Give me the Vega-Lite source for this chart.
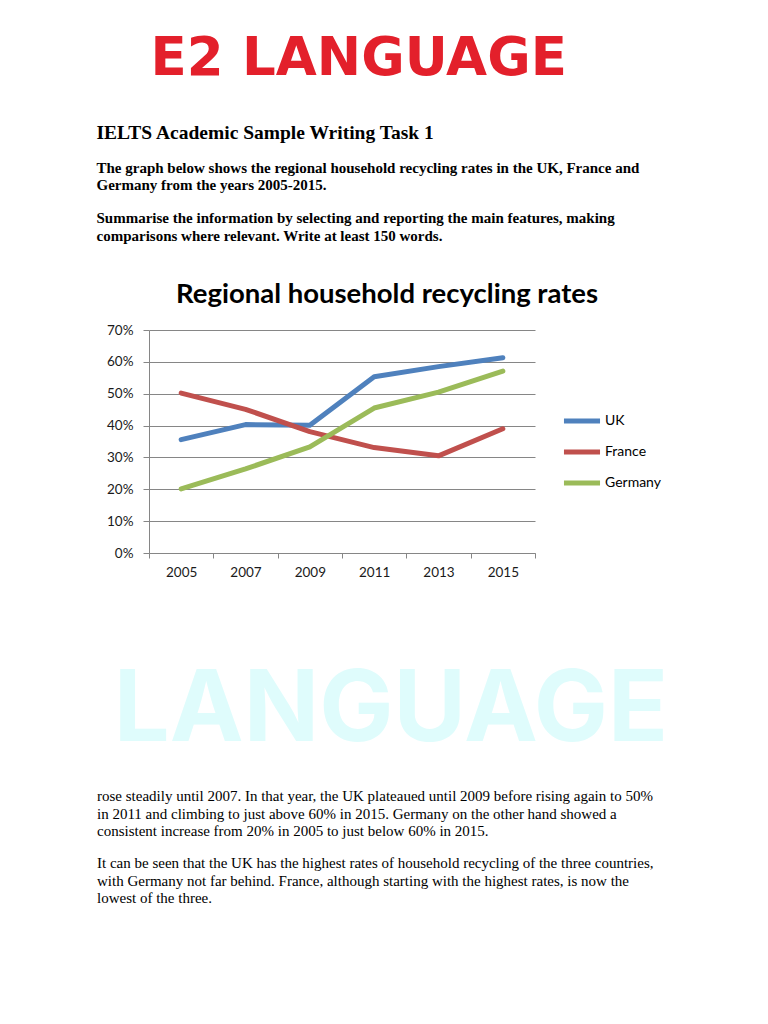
{
  "$schema": "https://vega.github.io/schema/vega-lite/v6.json",
  "background": "white",
  "padding": {"left": 96, "top": 33, "right": 5, "bottom": 5},
  "autosize": {"type": "pad"},
  "title": {
    "text": "E2 LANGUAGE",
    "font": "DejaVu Sans",
    "fontWeight": "bold",
    "fontSize": 53,
    "color": "#e3202b",
    "anchor": "start",
    "frame": "bounds",
    "dx": 54,
    "offset": 37
  },
  "config": {
    "view": {"stroke": null},
    "concat": {"spacing": 58},
    "axis": {
      "domainColor": "#868686",
      "tickColor": "#868686",
      "gridColor": "#868686",
      "labelFont": "Lato",
      "labelFontSize": 13.5,
      "labelColor": "#1a1a1a"
    }
  },
  "vconcat": [
    {
      "title": {
        "text": "IELTS Academic Sample Writing Task 1",
        "subtitle": [
          "The graph below shows the regional household recycling rates in the UK, France and",
          "Germany from the years 2005-2015."
        ],
        "font": "Liberation Serif",
        "fontWeight": "bold",
        "fontSize": 19.5,
        "color": "#000000",
        "subtitleFont": "Liberation Serif",
        "subtitleFontWeight": "bold",
        "subtitleFontSize": 15,
        "subtitleColor": "#000000",
        "subtitleLineHeight": 17.5,
        "subtitlePadding": 17,
        "anchor": "start",
        "frame": "bounds",
        "dx": 0,
        "offset": 17
      },
      "vconcat": [
        {
          "title": {
            "text": [
              "Summarise the information by selecting and reporting the main features, making",
              "comparisons where relevant. Write at least 150 words."
            ],
            "font": "Liberation Serif",
            "fontWeight": "bold",
            "fontSize": 15,
            "lineHeight": 17.5,
            "color": "#000000",
            "anchor": "start",
            "frame": "bounds",
            "dx": -10,
            "offset": 37
          },
          "vconcat": [
            {
              "title": {
                "text": "Regional household recycling rates",
                "font": "Lato",
                "fontWeight": "bold",
                "fontSize": 27.5,
                "color": "#000000",
                "anchor": "middle",
                "frame": "bounds",
                "dx": 66,
                "offset": 15
              },
              "width": 386,
              "height": 223,
              "data": {
                "values": [
                  {"year": "2005", "country": "UK", "rate": 35.6},
                  {"year": "2007", "country": "UK", "rate": 40.3},
                  {"year": "2009", "country": "UK", "rate": 40.1},
                  {"year": "2011", "country": "UK", "rate": 55.3},
                  {"year": "2013", "country": "UK", "rate": 58.5},
                  {"year": "2015", "country": "UK", "rate": 61.3},
                  {"year": "2005", "country": "France", "rate": 50.2},
                  {"year": "2007", "country": "France", "rate": 45.1},
                  {"year": "2009", "country": "France", "rate": 38.1},
                  {"year": "2011", "country": "France", "rate": 33.1},
                  {"year": "2013", "country": "France", "rate": 30.5},
                  {"year": "2015", "country": "France", "rate": 39.0},
                  {"year": "2005", "country": "Germany", "rate": 20.1},
                  {"year": "2007", "country": "Germany", "rate": 26.4},
                  {"year": "2009", "country": "Germany", "rate": 33.3},
                  {"year": "2011", "country": "Germany", "rate": 45.5},
                  {"year": "2013", "country": "Germany", "rate": 50.5},
                  {"year": "2015", "country": "Germany", "rate": 57.1}
                ]
              },
              "mark": {"type": "line", "strokeWidth": 5, "strokeCap": "round", "strokeJoin": "round"},
              "encoding": {
                "x": {
                  "field": "year",
                  "type": "ordinal",
                  "bandPosition": 0.5,
                  "scale": {"type": "band", "paddingInner": 0, "paddingOuter": 0},
                  "axis": {
                    "title": null,
                    "labelAngle": 0,
                    "tickBand": "extent",
                    "grid": false,
                    "tickSize": 5,
                    "labelPadding": 7
                  }
                },
                "y": {
                  "field": "rate",
                  "type": "quantitative",
                  "scale": {"domain": [0, 70], "nice": false},
                  "axis": {
                    "title": null,
                    "values": [0, 10, 20, 30, 40, 50, 60, 70],
                    "labelExpr": "datum.value + '%'",
                    "grid": true,
                    "tickSize": 6,
                    "labelPadding": 10
                  }
                },
                "color": {
                  "field": "country",
                  "type": "nominal",
                  "scale": {"domain": ["UK", "France", "Germany"], "range": ["#4f81bd", "#c0504d", "#9bbb59"]},
                  "legend": {
                    "title": null,
                    "orient": "none",
                    "legendX": 412,
                    "legendY": 70,
                    "symbolType": "stroke",
                    "symbolStrokeWidth": 5,
                    "symbolSize": 1300,
                    "labelFont": "Lato",
                    "labelFontSize": 14,
                    "labelColor": "#000000",
                    "labelOffset": 2,
                    "rowPadding": -4
                  }
                }
              }
            }
          ]
        }
      ]
    },
    {
      "title": {
        "orient": "bottom",
        "text": [
          "It can be seen that the UK has the highest rates of household recycling of the three countries,",
          "with Germany not far behind. France, although starting with the highest rates, is now the",
          "lowest of the three."
        ],
        "font": "Liberation Serif",
        "fontWeight": "normal",
        "fontSize": 15,
        "color": "#000000",
        "lineHeight": 17.5,
        "anchor": "start",
        "frame": "group",
        "offset": 17,
        "dx": -52
      },
      "vconcat": [
        {
          "width": 484,
          "height": 148,
          "data": {"values": [{"word": "LANGUAGE"}]},
          "mark": {"type": "text", "font": "Inter", "fontWeight": "bold", "fontSize": 99, "color": "#dffcfc", "align": "center", "baseline": "middle"},
          "encoding": {"text": {"field": "word", "type": "nominal"}},
          "title": {
            "orient": "bottom",
            "text": [
              "rose steadily until 2007. In that year, the UK plateaued until 2009 before rising again to 50%",
              "in 2011 and climbing to just above 60% in 2015. Germany on the other hand showed a",
              "consistent increase from 20% in 2005 to just below 60% in 2015."
            ],
            "font": "Liberation Serif",
            "fontWeight": "normal",
            "fontSize": 15,
            "color": "#000000",
            "lineHeight": 17.5,
            "anchor": "start",
            "frame": "group",
            "offset": 4,
            "dx": -52
          }
        }
      ]
    }
  ]
}
